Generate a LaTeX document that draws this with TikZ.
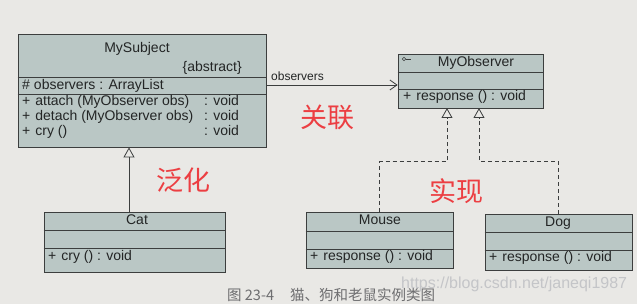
\documentclass[tikz,border=0pt]{standalone}
\usepackage{fontspec}
\setmainfont{Liberation Sans}
\newfontfamily\cjk{Noto Sans CJK SC}
\definecolor{bggray}{RGB}{233,232,229}
\definecolor{boxfill}{RGB}{186,199,197}
\definecolor{linegray}{RGB}{60,62,62}
\definecolor{textdark}{RGB}{35,37,37}
\definecolor{notered}{RGB}{236,62,66}
\definecolor{capgray}{RGB}{110,110,112}
\definecolor{markgray}{RGB}{196,197,200}
\usetikzlibrary{arrows.meta,calc}

\begin{document}
\begin{tikzpicture}[x=1pt,y=-1pt,
  cls/.style={draw=linegray,fill=boxfill,line width=0.8pt,inner sep=0pt},
  sep/.style={draw=linegray,line width=0.8pt},
  txt/.style={font=\fontsize{14}{16}\selectfont,text=textdark,inner sep=0pt,
              text height=10pt,text depth=3pt},
  mem/.style={txt,anchor=west},
  note/.style={font=\cjk\fontsize{27}{29}\selectfont,text=notered,inner sep=0pt},
  gen/.style={-{Triangle[open,length=10pt,width=11pt]},draw=linegray,line width=0.8pt},
  real/.style={gen,dash pattern=on 4pt off 3pt},
  assoc/.style={-{Straight Barb[length=7pt,width=10pt]},draw=linegray,line width=0.8pt}
]
  \fill[bggray] (0,0) rectangle (637,304);
  \useasboundingbox (0,0) rectangle (637,304);
  % MySubject
  \node[cls,minimum width=248pt,minimum height=113pt] (subj) at (142,90.5) {};
  \draw[sep] (subj.west |- 0,77) -- (subj.east |- 0,77);
  \draw[sep] (subj.west |- 0,94) -- (subj.east |- 0,94);
  \node[txt] (subjname) at (137,49) {MySubject};
  \node[txt,anchor=east] (subjabs) at (242,68) {\{abstract\}};
  \node[mem] (subjattr) at (22,86) {\#\hspace{4pt}observers\hspace{4pt}: ArrayList};
  \node[mem] (subjm1) at (22,102) {+\hspace{5pt}attach (MyObserver obs)};
  \node[mem] (subjm2) at (22,117) {+\hspace{5pt}detach (MyObserver obs)};
  \node[mem] (subjm3) at (22,132) {+\hspace{5pt}cry ()};
  \node[mem] (subjv1) at (204,102) {: void};
  \node[mem] (subjv2) at (204,117) {: void};
  \node[mem] (subjv3) at (204,132) {: void};
  % MyObserver
  \node[cls,minimum width=145pt,minimum height=54pt] (obs) at (470.5,81) {};
  \draw[sep] (obs.west |- 0,72) -- (obs.east |- 0,72);
  \draw[sep] (obs.west |- 0,89) -- (obs.east |- 0,89);
  \node[txt] (obsname) at (476,63) {MyObserver};
  \node[draw=linegray,circle,inner sep=0pt,minimum size=3.5pt,line width=0.6pt] (obsicon) at (404,59) {};
  \draw[linegray,line width=0.6pt] (obsicon.east) -- ++(5,0);
  \node[mem] (obsm1) at (403,97) {+\hspace{5pt}response ()\hspace{4pt}: void};
  % Cat, Mouse, Dog
  \node[cls,minimum width=181pt,minimum height=60pt] (cat) at (134.5,242) {};
  \draw[sep] (cat.west |- 0,230) -- (cat.east |- 0,230);
  \draw[sep] (cat.west |- 0,248) -- (cat.east |- 0,248);
  \node[txt] (catname) at (137,221) {Cat};
  \node[mem] (catm1) at (48,257) {+\hspace{5pt}cry ()\hspace{4pt}: void};
  \node[cls,minimum width=147pt,minimum height=56pt] (mouse) at (379.5,240) {};
  \draw[sep] (mouse.west |- 0,231) -- (mouse.east |- 0,231);
  \draw[sep] (mouse.west |- 0,249) -- (mouse.east |- 0,249);
  \node[txt] (mousename) at (380,221) {Mouse};
  \node[mem] (mousem1) at (310,257) {+\hspace{5pt}response ()\hspace{4pt}: void};
  \node[cls,minimum width=147pt,minimum height=56pt] (dog) at (558.5,242) {};
  \draw[sep] (dog.west |- 0,232) -- (dog.east |- 0,232);
  \draw[sep] (dog.west |- 0,250) -- (dog.east |- 0,250);
  \node[txt] (dogname) at (558,223) {Dog};
  \node[mem] (dogm1) at (489,258) {+\hspace{5pt}response ()\hspace{4pt}: void};
  % Connectors
  \coordinate (catup) at (129,212);
  \coordinate (r1) at (447,108);
  \coordinate (r2) at (479,108);
  \draw[gen] (catup) -- (catup |- subj.south);
  \draw[real] (mouse.north) -- ++(0,-50) -| (r1);
  \draw[real] (dog.north) -- ++(0,-52) -| (r2);
  \draw[assoc] (subj.east |- 0,85) -- (obs.west |- 0,85);
  \node[txt,font=\fontsize{12}{14}\selectfont,anchor=west] (assoclbl) at (271,77) {observers};
  % Notes
  \node[note] (notel) at (327,117) {关联};
  \node[note] (noteg) at (183,180) {泛化};
  \node[note] (noter) at (456,191) {实现};
  % Caption and mark
  \node[font=\cjk\fontsize{14.5}{16}\selectfont,text=capgray,anchor=west,inner sep=0pt] (caption) at (227,295) {图 23-4\hspace{16pt}猫、狗和老鼠实例类图};
  \node[font=\fontsize{16}{18}\selectfont,text=markgray,anchor=west,inner sep=0pt] (mark) at (401,284) {https://blog.csdn.net/janeqi1987};
\end{tikzpicture}
\end{document}
